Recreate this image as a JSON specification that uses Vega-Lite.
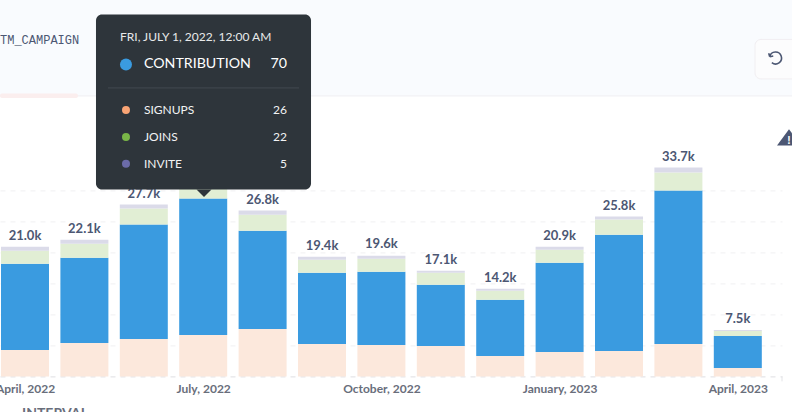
{"$schema":"https://vega.github.io/schema/vega-lite/v6.json","autosize":{"type":"none"},"padding":{"left":0,"top":0.4,"right":10,"bottom":35.6},"width":782,"height":376,"background":"#ffffff","view":{"stroke":null},"config":{"font":"Lato","text":{"font":"Lato"}},"datasets":{"rows":[
{"m":0,"series":"SIGNUPS","rank":1,"k":4.26},{"m":0,"series":"CONTRIBUTION","rank":2,"k":13.9},{"m":0,"series":"JOINS","rank":3,"k":2.1},{"m":0,"series":"INVITE","rank":4,"k":0.65},
{"m":1,"series":"SIGNUPS","rank":1,"k":5.4},{"m":1,"series":"CONTRIBUTION","rank":2,"k":13.75},{"m":1,"series":"JOINS","rank":3,"k":2.26},{"m":1,"series":"INVITE","rank":4,"k":0.65},
{"m":2,"series":"SIGNUPS","rank":1,"k":6.04},{"m":2,"series":"CONTRIBUTION","rank":2,"k":18.44},{"m":2,"series":"JOINS","rank":3,"k":2.59},{"m":2,"series":"INVITE","rank":4,"k":0.65},
{"m":3,"series":"SIGNUPS","rank":1,"k":6.68},{"m":3,"series":"CONTRIBUTION","rank":2,"k":22.0},{"m":3,"series":"JOINS","rank":3,"k":2.8},{"m":3,"series":"INVITE","rank":4,"k":0.7},
{"m":4,"series":"SIGNUPS","rank":1,"k":7.65},{"m":4,"series":"CONTRIBUTION","rank":2,"k":15.85},{"m":4,"series":"JOINS","rank":3,"k":2.59},{"m":4,"series":"INVITE","rank":4,"k":0.65},
{"m":5,"series":"SIGNUPS","rank":1,"k":5.23},{"m":5,"series":"CONTRIBUTION","rank":2,"k":11.48},{"m":5,"series":"JOINS","rank":3,"k":2.1},{"m":5,"series":"INVITE","rank":4,"k":0.49},
{"m":6,"series":"SIGNUPS","rank":1,"k":5.07},{"m":6,"series":"CONTRIBUTION","rank":2,"k":11.8},{"m":6,"series":"JOINS","rank":3,"k":2.1},{"m":6,"series":"INVITE","rank":4,"k":0.49},
{"m":7,"series":"SIGNUPS","rank":1,"k":4.9},{"m":7,"series":"CONTRIBUTION","rank":2,"k":9.87},{"m":7,"series":"JOINS","rank":3,"k":1.94},{"m":7,"series":"INVITE","rank":4,"k":0.32},
{"m":8,"series":"SIGNUPS","rank":1,"k":3.29},{"m":8,"series":"CONTRIBUTION","rank":2,"k":9.06},{"m":8,"series":"JOINS","rank":3,"k":1.46},{"m":8,"series":"INVITE","rank":4,"k":0.32},
{"m":9,"series":"SIGNUPS","rank":1,"k":3.94},{"m":9,"series":"CONTRIBUTION","rank":2,"k":14.39},{"m":9,"series":"JOINS","rank":3,"k":2.1},{"m":9,"series":"INVITE","rank":4,"k":0.49},
{"m":10,"series":"SIGNUPS","rank":1,"k":4.1},{"m":10,"series":"CONTRIBUTION","rank":2,"k":18.76},{"m":10,"series":"JOINS","rank":3,"k":2.43},{"m":10,"series":"INVITE","rank":4,"k":0.49},
{"m":11,"series":"SIGNUPS","rank":1,"k":5.23},{"m":11,"series":"CONTRIBUTION","rank":2,"k":24.74},{"m":11,"series":"JOINS","rank":3,"k":2.91},{"m":11,"series":"INVITE","rank":4,"k":0.81},
{"m":12,"series":"SIGNUPS","rank":1,"k":1.35},{"m":12,"series":"CONTRIBUTION","rank":2,"k":5.18},{"m":12,"series":"JOINS","rank":3,"k":0.81},{"m":12,"series":"INVITE","rank":4,"k":0.16}],
"totals":[{"m":0,"k":21.0,"label":"21.0k"},{"m":1,"k":22.1,"label":"22.1k"},{"m":2,"k":27.7,"label":"27.7k"},{"m":3,"k":32.2,"label":"32.2k"},{"m":4,"k":26.8,"label":"26.8k"},{"m":5,"k":19.4,"label":"19.4k"},{"m":6,"k":19.6,"label":"19.6k"},{"m":7,"k":17.1,"label":"17.1k"},{"m":8,"k":14.2,"label":"14.2k"},{"m":9,"k":20.9,"label":"20.9k"},{"m":10,"k":25.8,"label":"25.8k"},{"m":11,"k":33.7,"label":"33.7k"},{"m":12,"k":7.5,"label":"7.5k"}]},
"layer":[
{"data":{"name":"rows"},"mark":{"type":"bar","width":48,"orient":"vertical"},"encoding":{
"x":{"field":"m","type":"quantitative","scale":{"domain":[-0.4209,12.744],"nice":false,"zero":false,"padding":0},"axis":{"values":[0,3,6,9,12],"grid":false,"domain":false,"ticks":false,"title":null,"labelFont":"Lato","labelFontSize":12,"labelFontWeight":"bold","labelColor":"#696e7b","labelPadding":7,"labelFlush":false,"labelOverlap":false,"labelBound":false,"labelExpr":"datum.value==0?'April, 2022':datum.value==3?'July, 2022':datum.value==6?'October, 2022':datum.value==9?'January, 2023':'April, 2023'"}},
"y":{"field":"k","type":"quantitative","stack":"zero","scale":{"domain":[0,60.645],"nice":false},"axis":{"values":[0,5,10,15,20,25,30],"title":null,"labels":false,"ticks":false,"domain":false,"grid":true,"gridDash":[5,5],"gridColor":{"condition":{"test":"datum.value===0","value":"#dedfe2"},"value":"#f0f0f2"}}},
"color":{"field":"series","type":"nominal","legend":null,"scale":{"domain":["SIGNUPS","CONTRIBUTION","JOINS","INVITE"],"range":["#fce8dc","#3a9be0","#e1eed4","#dbdbe9"]}},
"order":{"field":"rank"}}},
{"data":{"name":"totals"},"mark":{"type":"text","font":"Lato","fontSize":13,"fontWeight":"bold","color":"#4c5773","baseline":"bottom","dy":-3.5},"encoding":{"x":{"field":"m","type":"quantitative"},"y":{"field":"k","type":"quantitative"},"text":{"field":"label"}}},
{"data":{"values":[{"m":-0.4209,"m2":12.912,"k":60.7,"k2":45.32}]},"mark":{"type":"rect","fill":"#f9fbfe"},"encoding":{"x":{"field":"m","type":"quantitative"},"x2":{"field":"m2"},"y":{"field":"k","type":"quantitative"},"y2":{"field":"k2"}}},
{"data":{"values":[{"m":-0.4209,"m2":12.912,"k":45.24}]},"mark":{"type":"rule","color":"#eeeef2"},"encoding":{"x":{"field":"m","type":"quantitative"},"x2":{"field":"m2"},"y":{"field":"k","type":"quantitative"}}},
{"data":{"values":[{"m":12.744,"k":0,"k2":-0.8}]},"mark":{"type":"rule","color":"#e3e4e7"},"encoding":{"x":{"field":"m","type":"quantitative"},"y":{"field":"k","type":"quantitative"},"y2":{"field":"k2"}}},
{"data":{"values":[{"m":-0.4209,"m2":0.892,"k":45.645,"k2":44.92}]},"mark":{"type":"rect","fill":"#fbeeee","cornerRadius":2},"encoding":{"x":{"field":"m","type":"quantitative"},"x2":{"field":"m2"},"y":{"field":"k","type":"quantitative"},"y2":{"field":"k2"}}},
{"data":{"values":[{"m":-0.4209,"k":54.2,"t":"TM_CAMPAIGN"}]},"mark":{"type":"text","font":"Liberation Mono","fontSize":12,"color":"#4c5773","align":"left","baseline":"middle"},"encoding":{"x":{"field":"m","type":"quantitative"},"y":{"field":"k","type":"quantitative"},"text":{"field":"t"}}},
{"data":{"values":[{"m":-0.05,"k":-5,"t":"INTERVAL"}]},"mark":{"type":"text","font":"Lato","fontSize":14,"fontWeight":"bold","color":"#696e7b","align":"left","baseline":"top"},"encoding":{"x":{"field":"m","type":"quantitative"},"y":{"field":"k","type":"quantitative"},"text":{"field":"t"}}},
{"data":{"values":[{"m":12.29,"m2":13.05,"k":54.35,"k2":47.98}]},"mark":{"type":"rect","fill":"#fcfcfd","stroke":"#f1eef2","cornerRadius":6},"encoding":{"x":{"field":"m","type":"quantitative"},"x2":{"field":"m2"},"y":{"field":"k","type":"quantitative"},"y2":{"field":"k2"}}},
{"data":{"values":[{"m":12.638,"k":51.34}]},"mark":{"type":"point","filled":false,"stroke":"#4c5773","strokeWidth":1.6,"opacity":1,"size":196,"shape":"M -0.85 -0.2 A 0.85 0.85 0 1 1 -0.55 0.65 M -0.85 -0.2 L -1 -0.7 M -0.85 -0.2 L -0.35 -0.3"},"encoding":{"x":{"field":"m","type":"quantitative"},"y":{"field":"k","type":"quantitative"}}},
{"data":{"values":[{"m":12.862,"k":38.55}]},"mark":{"type":"point","filled":true,"fill":"#4c5773","opacity":1,"size":576,"shape":"M 0 -0.68 L 1 0.68 L -1 0.68 Z"},"encoding":{"x":{"field":"m","type":"quantitative"},"y":{"field":"k","type":"quantitative"}}},
{"data":{"values":[{"m":12.862,"k":38.2,"t":"!"}]},"mark":{"type":"text","font":"Lato","fontSize":12,"fontWeight":"bold","color":"#ffffff"},"encoding":{"x":{"field":"m","type":"quantitative"},"y":{"field":"k","type":"quantitative"},"text":{"field":"t"}}},
{"data":{"values":[{"m":1.195,"m2":4.815,"k":58.39,"k2":30.16}]},"mark":{"type":"rect","fill":"#2e353b","cornerRadius":6},"encoding":{"x":{"field":"m","type":"quantitative"},"x2":{"field":"m2"},"y":{"field":"k","type":"quantitative"},"y2":{"field":"k2"}}},
{"data":{"values":[{"m":3.013,"k":30.16}]},"mark":{"type":"point","filled":true,"fill":"#2e353b","opacity":1,"size":225,"shape":"M -1 0 L 1 0 L 0 1 Z"},"encoding":{"x":{"field":"m","type":"quantitative"},"y":{"field":"k","type":"quantitative"}}},
{"data":{"values":[{"m":1.397,"m2":4.613,"k":46.53}]},"mark":{"type":"rule","color":"#434a50"},"encoding":{"x":{"field":"m","type":"quantitative"},"x2":{"field":"m2"},"y":{"field":"k","type":"quantitative"}}},
{"data":{"values":[{"m":1.599,"k":54.68,"t":"FRI, JULY 1, 2022, 12:00 AM"}]},"mark":{"type":"text","font":"Lato","fontSize":12,"color":"#e8e9ea","align":"left","baseline":"middle"},"encoding":{"x":{"field":"m","type":"quantitative"},"y":{"field":"k","type":"quantitative"},"text":{"field":"t"}}},
{"data":{"values":[{"m":2.003,"k":50.4,"t":"CONTRIBUTION"}]},"mark":{"type":"text","font":"Lato","fontSize":14.2,"color":"#ffffff","align":"left","baseline":"middle"},"encoding":{"x":{"field":"m","type":"quantitative"},"y":{"field":"k","type":"quantitative"},"text":{"field":"t"}}},
{"data":{"values":[{"m":4.411,"k":50.4,"t":"70"}]},"mark":{"type":"text","font":"Lato","fontSize":14.2,"color":"#ffffff","align":"right","baseline":"middle"},"encoding":{"x":{"field":"m","type":"quantitative"},"y":{"field":"k","type":"quantitative"},"text":{"field":"t"}}},
{"data":{"values":[{"m":2.003,"k":42.95,"t":"SIGNUPS"},{"m":2.003,"k":38.6,"t":"JOINS"},{"m":2.003,"k":34.3,"t":"INVITE"}]},"mark":{"type":"text","font":"Lato","fontSize":12,"color":"#f2f3f4","align":"left","baseline":"middle"},"encoding":{"x":{"field":"m","type":"quantitative"},"y":{"field":"k","type":"quantitative"},"text":{"field":"t"}}},
{"data":{"values":[{"m":4.411,"k":42.95,"t":"26"},{"m":4.411,"k":38.6,"t":"22"},{"m":4.411,"k":34.3,"t":"5"}]},"mark":{"type":"text","font":"Lato","fontSize":12,"color":"#f2f3f4","align":"right","baseline":"middle"},"encoding":{"x":{"field":"m","type":"quantitative"},"y":{"field":"k","type":"quantitative"},"text":{"field":"t"}}},
{"data":{"values":[{"m":1.7,"k":50.32,"series":"CONTRIBUTION"}]},"mark":{"type":"point","filled":true,"opacity":1,"size":144,"shape":"circle"},"encoding":{"x":{"field":"m","type":"quantitative"},"y":{"field":"k","type":"quantitative"},"color":{"field":"series","type":"nominal","legend":null,"scale":{"domain":["SIGNUPS","CONTRIBUTION","JOINS","INVITE"],"range":["#f9a475","#3a9be0","#7ab648","#6b6ba8"]}}}},
{"data":{"values":[{"m":1.7,"k":42.95,"series":"SIGNUPS"},{"m":1.7,"k":38.6,"series":"JOINS"},{"m":1.7,"k":34.3,"series":"INVITE"}]},"mark":{"type":"point","filled":true,"opacity":1,"size":64,"shape":"circle"},"encoding":{"x":{"field":"m","type":"quantitative"},"y":{"field":"k","type":"quantitative"},"color":{"field":"series","type":"nominal","legend":null,"scale":{"domain":["SIGNUPS","CONTRIBUTION","JOINS","INVITE"],"range":["#f9a475","#3a9be0","#7ab648","#6b6ba8"]}}}}
],"resolve":{"scale":{"color":"independent"}}}
